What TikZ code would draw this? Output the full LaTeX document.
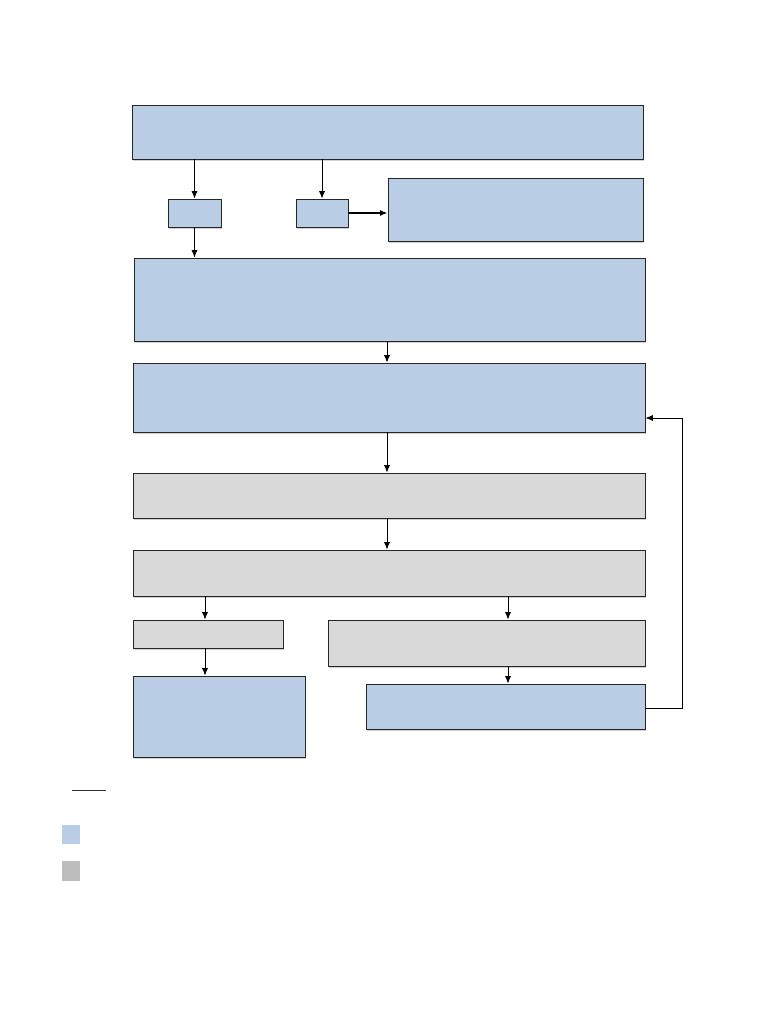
\documentclass[tikz,border=0pt]{standalone}
\usepackage{tikz}
\usetikzlibrary{positioning,arrows.meta,calc,fit,shadows}
\definecolor{celeste}{HTML}{B9CDE5}
\definecolor{gris}{HTML}{D9D9D9}
\definecolor{grisleyenda}{HTML}{BDBDBD}
\tikzset{
  caja/.style={draw=black!85,line width=0.8pt,inner sep=0pt,
    drop shadow={shadow xshift=0.5pt,shadow yshift=-1.3pt,fill=black!40,opacity=0.45}},
  cajaazul/.style={caja,fill=celeste},
  cajagris/.style={caja,fill=gris},
  flecha/.style={line width=0.7pt,-{Latex[length=2.2mm,width=1.8mm]}}
}

\begin{document}
\begin{tikzpicture}[x=0.03cm,y=-0.03cm]
        \useasboundingbox (0,0) rectangle (768,1024);
        \foreach \nm/\st/\xa/\ya/\xb/\yb in {inicio/cajaazul/132/105/643/159,izq/cajaazul/168/199/221/227,centro/cajaazul/296/199/348/227,der/cajaazul/388/178/643/241,etapa/cajaazul/134/258/645/341,bucle/cajaazul/133/363/645/432,paso/cajagris/133/473/645/518,eval/cajagris/133/550/645/596,rama/cajagris/133/620/283/648,otra/cajagris/328/620/645/666,fin/cajaazul/133/676/305/757,ajuste/cajaazul/366/684/645/729}{
          \node[\st,fit={(\xa,\ya) (\xb,\yb)}] (\nm) {};
        }
        \draw[flecha] (inicio.south -| izq.north) -- (izq.north);
        \draw[flecha] (inicio.south -| centro.north) -- (centro.north);
        \draw[line width=1.4pt,-{Latex[length=2.2mm,width=1.8mm]}] (centro.east) -- (centro.east -| der.west);
        \draw[flecha] (izq.south) -- (izq.south |- etapa.north);
        \draw[flecha] (etapa.south -| 387,0) -- (bucle.north -| 387,0);
        \draw[flecha] (bucle.south -| 387,0) -- (paso.north -| 387,0);
        \draw[flecha] (paso.south -| 387,0) -- (eval.north -| 387,0);
        \draw[flecha] (eval.south -| 205,0) -- (rama.north -| 205,0);
        \draw[flecha] (eval.south -| 508,0) -- (otra.north -| 508,0);
        \draw[flecha] (rama.south -| 205,0) -- (fin.north -| 205,0);
        \draw[flecha] (otra.south -| 508,0) -- (ajuste.north -| 508,0);
        \coordinate (retorno) at (682,418);
        \draw[flecha] (ajuste.east |- 0,708) -| (retorno) -- (retorno -| bucle.east);
        % leyenda
        \draw[line width=0.8pt,black!80] (72,790) -- (106,790);
        \node[fill=celeste,inner sep=0pt,fit={(62,825) (80,844)}] (ley1) {};
        \node[fill=grisleyenda,inner sep=0pt,fit={(62,861) (80,881)}] (ley2) {};
      \end{tikzpicture}
\end{document}
